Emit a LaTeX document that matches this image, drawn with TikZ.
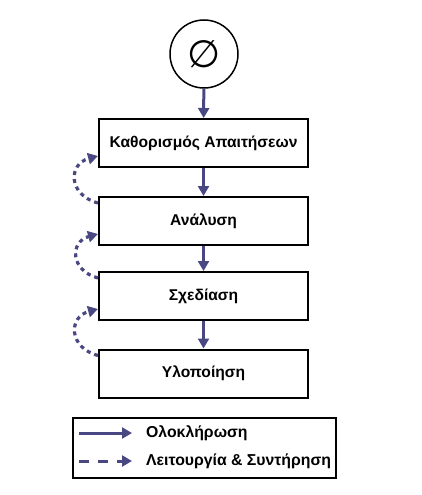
\documentclass[tikz,border=0pt]{standalone}
\usepackage{fontspec}
\setmainfont{Liberation Sans}
\newfontfamily\symfont{DejaVu Sans}
\usetikzlibrary{arrows.meta}
\definecolor{arr}{RGB}{74,72,130}
\begin{document}
\begin{tikzpicture}[x=1pt,y=1pt,
  stepbox/.style={draw, line width=2pt, minimum width=209pt, minimum height=48pt, inner sep=0pt,
    font=\bfseries\fontsize{15.6}{18}\selectfont},
  flow/.style={arr, line width=3pt, -{Triangle[width=11pt,length=10pt]}},
  back/.style={arr, line width=3.2pt, dash pattern=on 4pt off 4pt, -{Triangle[width=11pt,length=10pt]}, out=165, in=195, looseness=1.7},
  legtext/.style={anchor=west, inner sep=0pt, font=\bfseries\fontsize{15.8}{18}\selectfont}]
\useasboundingbox (0,0) rectangle (422,-495);
\node[circle, draw, line width=1.5pt, minimum size=68pt, inner sep=0pt,
  font=\symfont\fontsize{38}{38}\selectfont] (start) at (204,-54) {∅};
\node[stepbox] (b1) at (203.5,-143) {Καθορισμός Απαιτήσεων};
\node[stepbox] (b2) at (203.5,-221) {Ανάλυση};
\node[stepbox] (b3) at (203.5,-296) {Σχεδίαση};
\node[stepbox] (b4) at (203.5,-373.5) {Υλοποίηση};
\draw[flow] (start) -- (b1);
\draw[flow] (b1) -- (b2);
\draw[flow] (b2) -- (b3);
\draw[flow] (b3) -- (b4);
\draw[back] ([yshift=-7pt]b2.north west) to ([yshift=12pt]b1.south west);
\draw[back] ([yshift=-7pt]b3.north west) to ([yshift=12pt]b2.south west);
\draw[back] ([yshift=-7pt]b4.north west) to ([yshift=12pt]b3.south west);
\node[draw, line width=1.5pt, minimum width=263pt, minimum height=60pt, anchor=north west, inner sep=0pt] (legend) at (72,-417) {};
\coordinate (l1a) at (79,-433);
\coordinate (l1b) at (132,-433);
\coordinate (l2a) at (79,-461);
\coordinate (l2b) at (132,-461);
\draw[arr, line width=3pt, -{Triangle[width=11pt,length=10pt]}] (l1a) -- (l1b);
\draw[arr, line width=3pt, dash pattern=on 10pt off 9pt, -{Triangle[width=11pt,length=10pt]}] (l2a) -- (l2b);
\node[legtext] (t1) at (146,-433) {Ολοκλήρωση};
\node[legtext] (t2) at (146,-461) {Λειτουργία \& Συντήρηση};
\end{tikzpicture}
\end{document}
